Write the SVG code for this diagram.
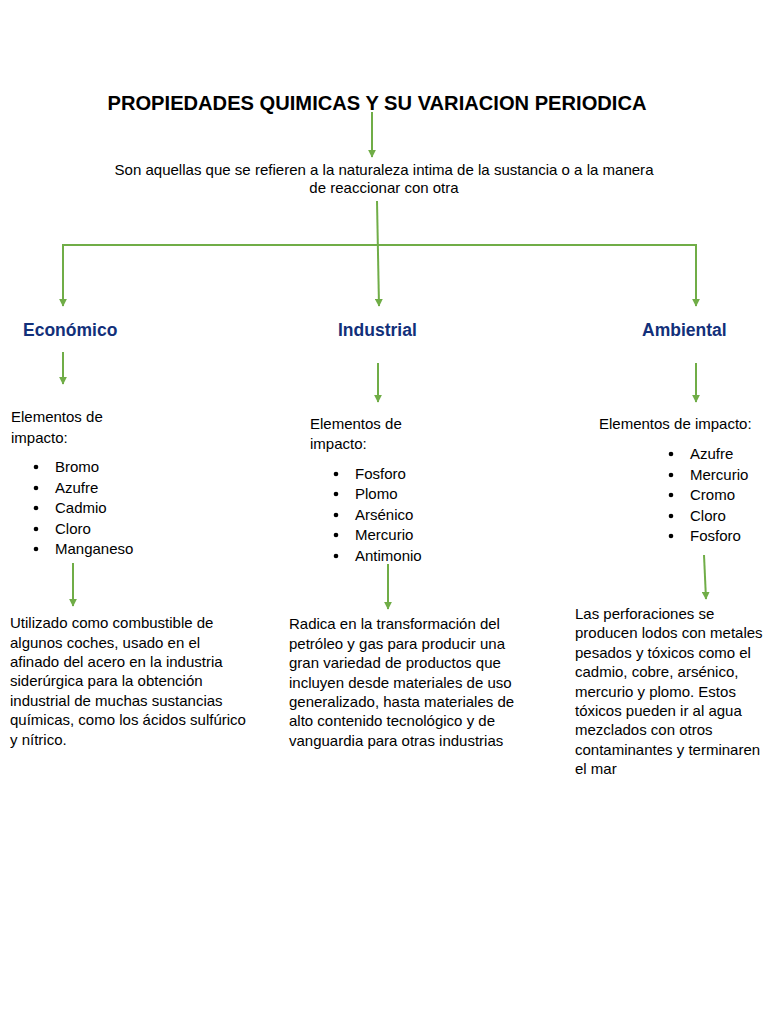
<svg xmlns="http://www.w3.org/2000/svg" width="768" height="1024" viewBox="0 0 768 1024">
<style>
text{font-family:"Liberation Sans",Arial,sans-serif;fill:#000}
.t{font-size:19.5px;font-weight:bold}
.b{font-size:15px}
.h{font-size:17.5px;font-weight:bold;fill:#12307a}
.c{stroke:#70ad47;stroke-width:2;fill:none}
.dot{fill:#000}
</style>
<defs>
<marker id="ah" viewBox="0 0 10 10" refX="9" refY="5" markerWidth="4" markerHeight="4" orient="auto" markerUnits="strokeWidth">
<path d="M0,0 L10,5 L0,10 z" fill="#70ad47"/>
</marker>
</defs>
<rect width="768" height="1024" fill="#fff"/>
<g id="title"><text class="t" x="377" y="110" text-anchor="middle" textLength="539" lengthAdjust="spacingAndGlyphs">PROPIEDADES QUIMICAS Y SU VARIACION PERIODICA</text></g>
<g id="definicion">
<text class="b" x="384" y="175" text-anchor="middle" textLength="539" lengthAdjust="spacingAndGlyphs">Son aquellas que se refieren a la naturaleza intima de la sustancia o a la manera</text>
<text class="b" x="384" y="193" text-anchor="middle">de reaccionar con otra</text>
</g>
<g id="connectors">
<path class="c" d="M372,112 L372,157" marker-end="url(#ah)"/>
<path class="c" d="M377,201 L379,306" marker-end="url(#ah)"/>
<path class="c" d="M63,306 L63,245 L696,245 L696,306" marker-end="url(#ah)"/>
<path class="c" d="M63,245 L63,306" marker-end="url(#ah)"/>
<path class="c" d="M63,352 L63,384" marker-end="url(#ah)"/>
<path class="c" d="M378,363 L378,402" marker-end="url(#ah)"/>
<path class="c" d="M696,363 L696,402" marker-end="url(#ah)"/>
<path class="c" d="M73,563 L73,606" marker-end="url(#ah)"/>
<path class="c" d="M388,564 L388,609" marker-end="url(#ah)"/>
<path class="c" d="M704,555 L706,599" marker-end="url(#ah)"/>
</g>
<g id="economico"><text class="h" x="23" y="336">Económico</text></g>
<g id="industrial"><text class="h" x="338" y="336">Industrial</text></g>
<g id="ambiental"><text class="h" x="642" y="336">Ambiental</text></g>
<g id="elementos-economico">
<text class="b" x="11" y="422">Elementos de</text>
<text class="b" x="11" y="443">impacto:</text>
<circle class="dot" cx="36" cy="467" r="2.3"/><text class="b" x="55" y="472">Bromo</text>
<circle class="dot" cx="36" cy="488" r="2.3"/><text class="b" x="55" y="493">Azufre</text>
<circle class="dot" cx="36" cy="508" r="2.3"/><text class="b" x="55" y="513">Cadmio</text>
<circle class="dot" cx="36" cy="529" r="2.3"/><text class="b" x="55" y="534">Cloro</text>
<circle class="dot" cx="36" cy="549" r="2.3"/><text class="b" x="55" y="554">Manganeso</text>
</g>
<g id="elementos-industrial">
<text class="b" x="310" y="429">Elementos de</text>
<text class="b" x="310" y="449">impacto:</text>
<circle class="dot" cx="336" cy="474" r="2.3"/><text class="b" x="355" y="479">Fosforo</text>
<circle class="dot" cx="336" cy="494" r="2.3"/><text class="b" x="355" y="499">Plomo</text>
<circle class="dot" cx="336" cy="515" r="2.3"/><text class="b" x="355" y="520">Arsénico</text>
<circle class="dot" cx="336" cy="535" r="2.3"/><text class="b" x="355" y="540">Mercurio</text>
<circle class="dot" cx="336" cy="556" r="2.3"/><text class="b" x="355" y="561">Antimonio</text>
</g>
<g id="elementos-ambiental">
<text class="b" x="599" y="429">Elementos de impacto:</text>
<circle class="dot" cx="671" cy="454" r="2.3"/><text class="b" x="690" y="459">Azufre</text>
<circle class="dot" cx="671" cy="475" r="2.3"/><text class="b" x="690" y="480">Mercurio</text>
<circle class="dot" cx="671" cy="495" r="2.3"/><text class="b" x="690" y="500">Cromo</text>
<circle class="dot" cx="671" cy="516" r="2.3"/><text class="b" x="690" y="521">Cloro</text>
<circle class="dot" cx="671" cy="536" r="2.3"/><text class="b" x="690" y="541">Fosforo</text>
</g>
<g id="desc-economico">
<text class="b" x="10" y="628">Utilizado como combustible de</text>
<text class="b" x="10" y="648">algunos coches, usado en el</text>
<text class="b" x="10" y="667">afinado del acero en la industria</text>
<text class="b" x="10" y="686">siderúrgica para la obtención</text>
<text class="b" x="10" y="706">industrial de muchas sustancias</text>
<text class="b" x="10" y="725">químicas, como los ácidos sulfúrico</text>
<text class="b" x="10" y="745">y nítrico.</text>
</g>
<g id="desc-industrial">
<text class="b" x="289" y="629">Radica en la transformación del</text>
<text class="b" x="289" y="649">petróleo y gas para producir una</text>
<text class="b" x="289" y="668">gran variedad de productos que</text>
<text class="b" x="289" y="688">incluyen desde materiales de uso</text>
<text class="b" x="289" y="707">generalizado, hasta materiales de</text>
<text class="b" x="289" y="726">alto contenido tecnológico y de</text>
<text class="b" x="289" y="746">vanguardia para otras industrias</text>
</g>
<g id="desc-ambiental">
<text class="b" x="575" y="619">Las perforaciones se</text>
<text class="b" x="575" y="638">producen lodos con metales</text>
<text class="b" x="575" y="658">pesados y tóxicos como el</text>
<text class="b" x="575" y="677">cadmio, cobre, arsénico,</text>
<text class="b" x="575" y="697">mercurio y plomo. Estos</text>
<text class="b" x="575" y="716">tóxicos pueden ir al agua</text>
<text class="b" x="575" y="735">mezclados con otros</text>
<text class="b" x="575" y="755">contaminantes y terminaren</text>
<text class="b" x="575" y="774">el mar</text>
</g>
</svg>
